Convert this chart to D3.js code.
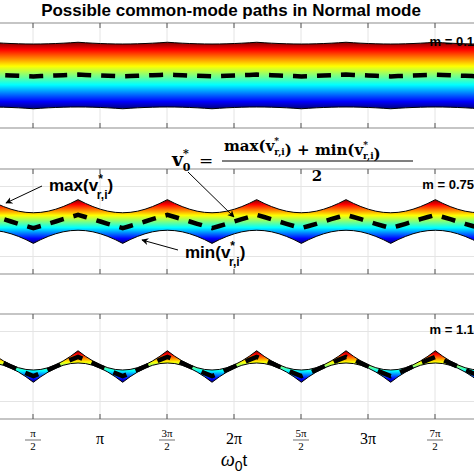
<!DOCTYPE html>
<html>
<head>
<meta charset="utf-8">
<script src="https://cdn.jsdelivr.net/npm/d3@7"></script>
<style>
  body { margin: 0; background: #fff; }
  text { font-family: "Liberation Sans", Arial, sans-serif; }
  .serif { font-family: "Liberation Serif", "DejaVu Serif", serif; }
  .math { font-family: "DejaVu Serif", serif; }
</style>
</head>
<body>
<svg id="chart" width="474" height="474"></svg>
<script>
// modulation index of each panel
var mValues = [0.1, 0.75, 1.1];
var mLabels = ["m = 0.1", "m = 0.75", "m = 1.1"];
// shape of max(v*_r,i)/m over one period (2pi/3), sampled every pi/18, starting at the cusp
var maxProfile = [0.5, 0.643, 0.766, 0.866, 0.940, 0.985, 1.0, 0.985, 0.940, 0.866, 0.766, 0.643];
var cuspPhase = 0.836;   // first upper cusp, in units of pi
var xTicks = [0.5, 1, 1.5, 2, 2.5, 3, 3.5];
var xTickNum = ["\u03c0", "\u03c0", "3\u03c0", "2\u03c0", "5\u03c0", "3\u03c0", "7\u03c0"];
var xTickDen = ["2", "", "2", "", "2", "", "2"];
var yGrid = [[], [-1, 1], [-1, 1]];
var panelTop = [23, 169, 314];
var panelH = 105;

var svg = d3.select("#chart");
var x = d3.scaleLinear().domain([0, 0.5]).range([-34, 33]);
var W = 474;

// build sample points: x in units of pi
function bandData(m) {
  var pts = [];
  var step = 1 / 18;
  var n = maxProfile.length;
  for (var k = -30; k <= 80; k++) {
    var xv = cuspPhase + k * step;
    var iu = ((k % n) + n) % n;
    var il = (((k - 6) % n) + n) % n;
    var up = 1 - m * maxProfile[iu];
    var lo = -1 + m * maxProfile[il];
    pts.push({ x: xv, up: up, lo: lo, mid: (up + lo) / 2 });
  }
  return pts.filter(function(d) { return x(d.x) > -20 && x(d.x) < W + 20; });
}

var jet = [[0, "#00007f"], [0.11, "#0000ff"], [0.36, "#00ffff"], [0.5, "#7fff7f"],
           [0.64, "#ffff00"], [0.89, "#ff0000"], [1, "#7f0000"]];

var defs = svg.append("defs");

mValues.forEach(function(m, i) {
  var top = panelTop[i];
  var y = d3.scaleLinear().domain([-1.5, 1.5]).range([top + panelH, top]);
  var data = bandData(m);
  var g = svg.append("g");

  defs.append("clipPath").attr("id", "clip" + i)
    .append("rect").attr("x", 0).attr("y", top).attr("width", W).attr("height", panelH);

  // grid
  g.selectAll(".vg").data(xTicks).enter().append("line")
    .attr("x1", function(d) { return x(d); }).attr("x2", function(d) { return x(d); })
    .attr("y1", top).attr("y2", top + panelH)
    .attr("stroke", "#e4e4e4").attr("stroke-width", 1);
  g.selectAll(".hg").data(yGrid[i]).enter().append("line")
    .attr("x1", 0).attr("x2", W)
    .attr("y1", function(d) { return y(d); }).attr("y2", function(d) { return y(d); })
    .attr("stroke", "#e4e4e4").attr("stroke-width", 1);

  var ymax = d3.max(data, function(d) { return d.up; });
  var ymin = d3.min(data, function(d) { return d.lo; });
  var grad = defs.append("linearGradient").attr("id", "jet" + i)
    .attr("gradientUnits", "userSpaceOnUse")
    .attr("x1", 0).attr("x2", 0).attr("y1", y(ymin)).attr("y2", y(ymax));
  jet.forEach(function(s) {
    grad.append("stop").attr("offset", s[0]).attr("stop-color", s[1]);
  });

  var plot = g.append("g").attr("clip-path", "url(#clip" + i + ")");
  var area = d3.area().x(function(d) { return x(d.x); })
    .y0(function(d) { return y(d.lo); }).y1(function(d) { return y(d.up); });
  plot.append("path").datum(data).attr("d", area)
    .attr("fill", "url(#jet" + i + ")").attr("stroke", "#000").attr("stroke-width", 1);
  plot.append("path").datum(data)
    .attr("d", d3.line().x(function(d) { return x(d.x); }).y(function(d) { return y(d.mid); }))
    .attr("fill", "none").attr("stroke", "#000").attr("stroke-width", 4.5)
    .attr("stroke-dasharray", "14,10");

  // frame and ticks
  g.append("line").attr("x1", 0).attr("x2", W).attr("y1", top).attr("y2", top)
    .attr("stroke", "#8c8c8c").attr("stroke-width", 1.2);
  g.append("line").attr("x1", 0).attr("x2", W).attr("y1", top + panelH).attr("y2", top + panelH)
    .attr("stroke", "#8c8c8c").attr("stroke-width", 1.2);
  xTicks.forEach(function(t) {
    g.append("line").attr("x1", x(t)).attr("x2", x(t)).attr("y1", top).attr("y2", top + 5).attr("stroke", "#555");
    g.append("line").attr("x1", x(t)).attr("x2", x(t)).attr("y1", top + panelH).attr("y2", top + panelH - 5).attr("stroke", "#555");
  });

  g.append("text").attr("x", 474).attr("y", top + (i === 0 ? 23 : 20))
    .attr("text-anchor", "end").attr("font-size", 13).attr("font-weight", "bold")
    .text(mLabels[i]);
});

// title
svg.append("text").attr("x", 231).attr("y", 16).attr("text-anchor", "middle")
  .attr("font-size", 17).attr("font-weight", "bold").text("Possible common-mode paths  in Normal mode");

// x tick labels
xTicks.forEach(function(t, i) {
  var tx = x(t);
  if (xTickDen[i]) {
    svg.append("text").attr("class", "serif").attr("x", tx).attr("y", 437).attr("text-anchor", "middle")
      .attr("font-size", 11).text(xTickNum[i]);
    svg.append("line").attr("x1", tx - 8).attr("x2", tx + 8).attr("y1", 440).attr("y2", 440)
      .attr("stroke", "#333").attr("stroke-width", 0.7);
    svg.append("text").attr("class", "serif").attr("x", tx).attr("y", 450).attr("text-anchor", "middle")
      .attr("font-size", 11).text(xTickDen[i]);
  } else {
    svg.append("text").attr("class", "serif").attr("x", tx).attr("y", 444).attr("text-anchor", "middle")
      .attr("font-size", 16).text(xTickNum[i]);
  }
});
var xl = svg.append("text").attr("class", "serif").attr("x", 234).attr("y", 466)
  .attr("text-anchor", "middle").attr("font-size", 20);
xl.append("tspan").attr("font-style", "italic").text("\u03c9");
xl.append("tspan").attr("font-size", 14).attr("dy", 5).attr("font-family", "Liberation Sans").text("0");
xl.append("tspan").attr("dy", -5).attr("font-family", "Liberation Sans").attr("font-size", 17).text("t");

// formula: v with star above and subscript below
function vTerm(t, sub, big, small) {
  t.append("tspan").text("v");
  t.append("tspan").attr("font-size", small).attr("dy", -big * 0.45).text("*");
  t.append("tspan").attr("font-size", small).attr("dx", -small * 0.55).attr("dy", big * 0.7).text(sub);
  t.append("tspan").attr("dy", -big * 0.25).text("");
}
var v0 = svg.append("text").attr("class", "math").attr("x", 172).attr("y", 166)
  .attr("font-size", 19).attr("font-weight", "bold");
vTerm(v0, "0", 19, 11);
svg.append("text").attr("class", "math").attr("x", 199).attr("y", 166).attr("font-size", 17).text("=");
svg.append("line").attr("x1", 222).attr("x2", 413).attr("y1", 161).attr("y2", 161).attr("stroke", "#000").attr("stroke-width", 1);
var num = svg.append("text").attr("class", "math").attr("x", 224).attr("y", 151)
  .attr("font-size", 15).attr("font-weight", "bold");
num.append("tspan").text("max(");
vTerm(num, "r,i", 15, 9);
num.append("tspan").text(") + min(");
vTerm(num, "r,i", 15, 9);
num.append("tspan").text(")");
svg.append("text").attr("class", "math").attr("x", 317).attr("y", 181).attr("text-anchor", "middle")
  .attr("font-size", 15).attr("font-weight", "bold").text("2");

// annotations
function label(xp, yp, name) {
  var t = svg.append("text").attr("x", xp).attr("y", yp).attr("font-size", 17).attr("font-weight", "bold");
  t.append("tspan").text(name + "(v");
  t.append("tspan").attr("font-size", 12).attr("dy", -8).text("*");
  t.append("tspan").attr("font-size", 12).attr("dx", -6).attr("dy", 16).text("r,i");
  t.append("tspan").attr("dy", -8).text(")");
}
label(49, 191, "max");
label(185, 258, "min");

defs.append("marker").attr("id", "arr").attr("viewBox", "0 0 10 10").attr("refX", 9).attr("refY", 5)
  .attr("markerWidth", 7).attr("markerHeight", 7).attr("orient", "auto")
  .append("path").attr("d", "M0,0 L10,5 L0,10 L3,5 Z").attr("fill", "#000");
[[42, 186, 6, 203], [188, 172, 234, 217], [178, 250, 142, 240]].forEach(function(a) {
  svg.append("line").attr("x1", a[0]).attr("y1", a[1]).attr("x2", a[2]).attr("y2", a[3])
    .attr("stroke", "#000").attr("stroke-width", 1).attr("marker-end", "url(#arr)");
});
</script>
</body>
</html>
